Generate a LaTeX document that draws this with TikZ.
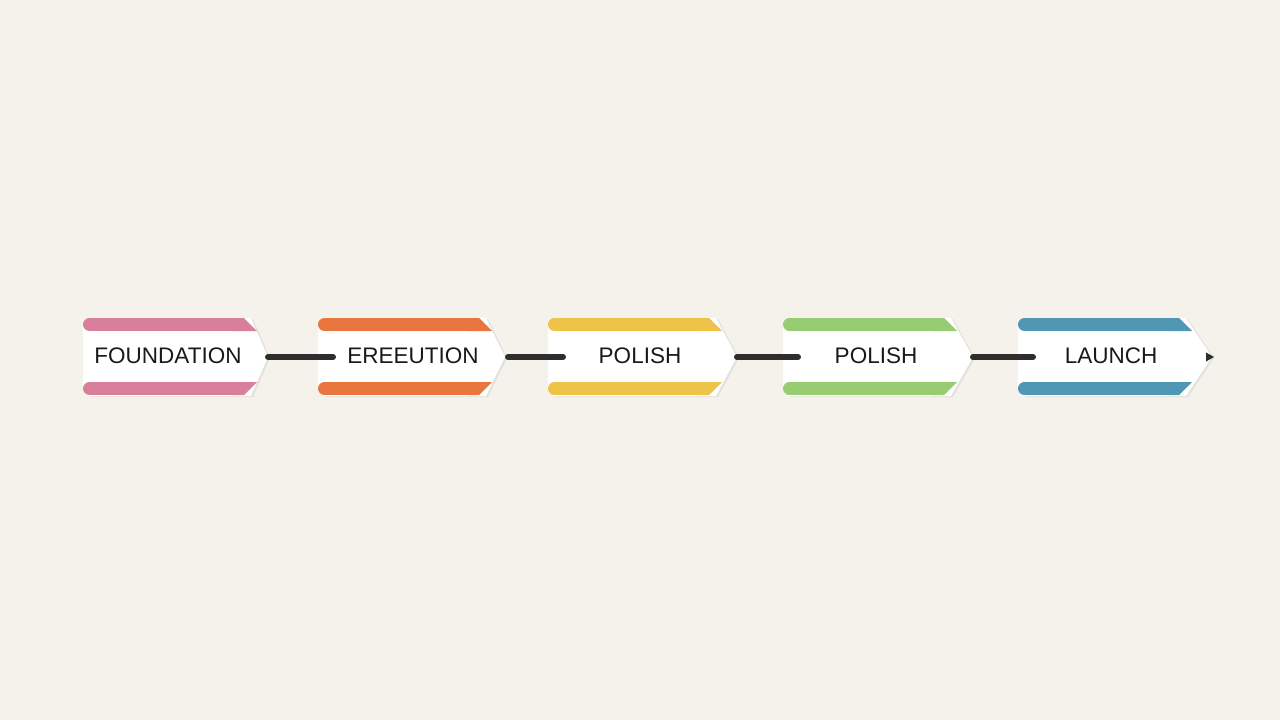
\documentclass[tikz,border=0pt]{standalone}
\usepackage{fontspec}
\setmainfont{Liberation Sans}
\usetikzlibrary{shadows}
\definecolor{bg}{HTML}{F5F2EC}
\definecolor{cpink}{HTML}{D97F9B}
\definecolor{corange}{HTML}{E8763E}
\definecolor{cyellow}{HTML}{EFC347}
\definecolor{cgreen}{HTML}{98CC72}
\definecolor{cblue}{HTML}{5096B5}
\definecolor{cdark}{HTML}{2E2E2E}
\tikzset{
  panel/.style={fill=white, drop shadow={opacity=0.15, shadow xshift=2pt, shadow yshift=-1pt}},
  bar/.style={line width=13pt, line cap=round},
  lab/.style={font=\fontsize{22.5}{26}\selectfont, text=black!90, inner sep=0pt},
  link/.style={draw=cdark, line width=6pt, line cap=round}
}
\begin{document}
\begin{tikzpicture}[x=1pt,y=-1pt]
\useasboundingbox[fill=bg] (0,0) rectangle (1280,720);
\foreach \x/\t/\m/\c/\lab/\n in {83/268/168/cpink/FOUNDATION/s1,
  318/505/413/corange/EREEUTION/s2,
  548/737/640/cyellow/POLISH/s3,
  783/973/876/cgreen/POLISH/s4,
  1018/1212/1111/cblue/LAUNCH/s5}{
  \fill[panel] (\x,325) -- ({\x+6},318) -- ({\x+168},318) -- (\t,357) -- ({\x+168},396) -- ({\x+6},396) -- (\x,389) -- cycle;
  \coordinate (tip\n) at (\t,357);
  \coordinate (in\n) at ({\x+15},357);
  % top bar
  \draw[bar,\c] ({\x+6.5},324.5) -- ({\x+155},324.5);
  \fill[\c] ({\x+150},318) -- ({\x+161},318) -- ({\x+174},331) -- ({\x+150},331) -- cycle;
  % bottom bar
  \draw[bar,\c] ({\x+6.5},388.5) -- ({\x+155},388.5);
  \fill[\c] ({\x+150},382) -- ({\x+174},382) -- ({\x+161},395) -- ({\x+150},395) -- cycle;
  \node[lab] (\n) at (\m,356) {\lab};
}
\draw[link] (tips1) -- (ins2);
\draw[link] ([xshift=3pt]tips2) -- (ins3);
\draw[link] (tips3) -- (ins4);
\draw[link] (tips4) -- (ins5);
\fill[cdark] ([xshift=-6pt,yshift=-4.5pt]tips5) -- ([xshift=2pt]tips5) -- ([xshift=-6pt,yshift=4.5pt]tips5) -- cycle;
\end{tikzpicture}
\end{document}
